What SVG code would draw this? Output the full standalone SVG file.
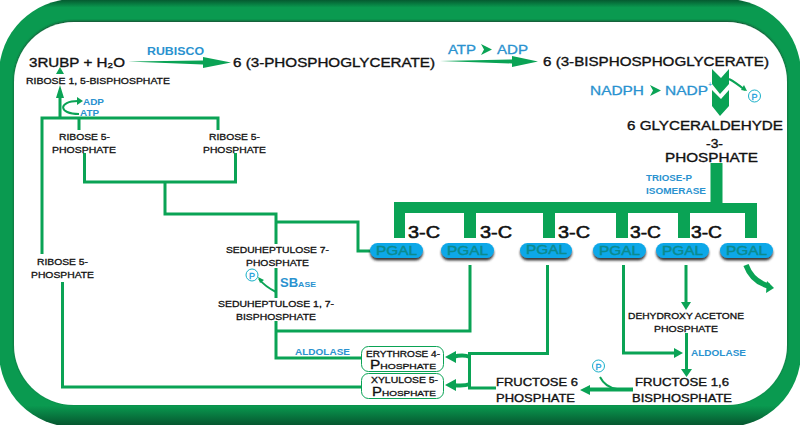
<svg xmlns="http://www.w3.org/2000/svg" width="800" height="425" viewBox="0 0 800 425">
<style>
text{font-family:"Liberation Sans",Arial,sans-serif;fill:#111;stroke:#111;stroke-width:.3;}
.a{font-size:9px}
.b{font-size:12.500px;stroke-width:.35}
.s{font-size:9px;font-weight:700;fill:#2a92cf;stroke:none}
.m{font-size:12px;fill:#2a92cf;stroke:#2a92cf}
.c{font-size:17px;stroke-width:.6}
.sc{font-variant:small-caps}
.pg{font-size:12px;fill:#0b8a8e;stroke:#0b8a8e;stroke-width:.4}
.l{fill:none;stroke:#0aa355;stroke-width:3}
.t{fill:none;stroke:#0aa355;stroke-width:2}
.f{fill:#0aa355}
.pill{fill:#0fa8e8;filter:url(#sh)}
.box{fill:#fff;stroke:#0aa355;stroke-width:1}
.pc{fill:#fff;stroke:#19b0c8;stroke-width:1}
.pt{font-size:9px;fill:#19a0dc;stroke:#19a0dc;text-anchor:middle}
</style>
<defs>
<linearGradient id="fr" x1="0" y1="0" x2="0" y2="1">
<stop offset="0" stop-color="#04522c"/><stop offset=".02" stop-color="#0a9a50"/><stop offset=".95" stop-color="#0a9a50"/><stop offset="1" stop-color="#05502c"/>
</linearGradient>
<filter id="sh" x="-20%" y="-30%" width="140%" height="190%"><feDropShadow dx="0" dy="2.500" stdDeviation="1.300" flood-color="#222" flood-opacity=".9"/></filter>
<filter id="sh2" x="-5%" y="-5%" width="110%" height="110%"><feDropShadow dx="0" dy="-1" stdDeviation="1" flood-color="#222" flood-opacity=".7"/></filter>
</defs>
<rect id="frame-outer" width="800" height="425" fill="#fff"/>
<rect x="-1" y="-1" width="802" height="428" rx="75" fill="url(#fr)"/>
<rect id="frame-inner" x="14" y="22" width="773" height="383" rx="60" fill="#fff" filter="url(#sh2)"/>

<g id="connectors">
<path class="f" d="M128 61.500L203 60.500V57L231 62.500L203 68V64.500Z"/>
<path class="f" d="M440 61L512 59.500V56L538 61.500L512 67V63.500Z"/>
<path class="l" d="M60 118V95M42 254V118H218V130M79 118V130M84.500 153V182H235.500V153M165 182V214H276V244M276 222H358V251H372"/>
<path class="f" d="M60 85L64 98H56ZM60 67L64 74H56Z"/>
<path class="t" d="M79 114C58 114 58 101 78 101"/>
<path class="f" d="M83 101L77 97V105Z"/>
<path class="l" d="M276 268V298M276 321V358H362M276 331H470V265M62.500 282V387H362"/>
<path class="t" d="M276 292C268 288 263 284 259 279"/>
<path class="f" d="M258 277L264 280L260 283Z"/>
<path class="l" d="M547.500 265V353.500H469.500V388H496M623.500 265V353H676"/>
<path class="f" d="M683 353L674 348V358Z"/>
<path class="l" d="M686 265V304"/>
<path class="f" d="M686 310L681 302H691Z"/>
<path class="l" d="M686.500 333V371"/>
<path class="f" d="M686.500 377L681 369H692Z"/>
<path class="l" style="stroke-width:4" d="M470 357C465 355 460 355 453 357M470 384C465 386 460 386 453 385M633 389.500H588"/>
<path class="f" d="M445 357L456 351V363ZM445 385L456 379V391ZM580 390L590 385V395Z"/>
<path class="t" d="M600 377C604 385 610 388 617 389"/>
<path class="l" style="stroke-width:5.500" d="M746 265C750 276 757 283 769 286"/>
<path class="f" d="M774 288L767 281L766 293Z"/>
<path class="f" d="M710.500 163H722.500V203H757V238H745V213H690V238H678V213H628V238H616V213H555V238H543V213H476V238H464V213H405V238H394V202H710.500Z"/>
<path class="f" d="M712 69L721 78L729 69V84L720 94L712 84ZM712 90L721 99L729 90V106L720 116L712 106Z"/>
<path class="t" d="M729 79C735 82 740 86 745 90"/>
<path class="f" d="M481 44L492 49.500L481 55L484 49.500ZM650 85L661 90.500L650 96L653 90.500Z"/>
<path class="f" d="M747 91L741 90L744 85Z"/>
</g>

<g id="rubp"><text class="b" x="29" y="67" textLength="96" lengthAdjust="spacingAndGlyphs">3RUBP + H₂O</text></g>
<g id="rubisco"><text class="s" style="font-size:11px" x="147" y="55" textLength="57" lengthAdjust="spacingAndGlyphs">RUBISCO</text></g>
<g id="pga"><text class="b" x="233" y="67" textLength="202" lengthAdjust="spacingAndGlyphs">6 (3-PHOSPHOGLYCERATE)</text></g>
<g id="atp-adp"><text class="m" x="448" y="54" textLength="28" lengthAdjust="spacingAndGlyphs">ATP</text><text class="m" x="497" y="54" textLength="31" lengthAdjust="spacingAndGlyphs">ADP</text></g>
<g id="bpga"><text class="b" x="543" y="66" textLength="226" lengthAdjust="spacingAndGlyphs">6 (3-BISPHOSPHOGLYCERATE)</text></g>
<g id="nadph"><text class="m" style="font-size:13px" x="590" y="95" textLength="54" lengthAdjust="spacingAndGlyphs">NADPH</text><text class="m" style="font-size:13px" x="665" y="95" textLength="43" lengthAdjust="spacingAndGlyphs">NADP</text><text class="s" x="708" y="87" style="font-weight:400;font-size:7px">+</text></g>
<g id="p1"><circle class="pc" cx="754.500" cy="96" r="6"/><text class="pt" x="754.500" y="99.500">P</text></g>
<g id="g3p"><text class="b" x="627" y="130" textLength="156" lengthAdjust="spacingAndGlyphs">6 GLYCERALDEHYDE</text><text class="b" x="706" y="148" textLength="17" lengthAdjust="spacingAndGlyphs">-3-</text><text class="b" x="665" y="162" textLength="93" lengthAdjust="spacingAndGlyphs">PHOSPHATE</text></g>
<g id="triose"><text class="s" x="646" y="181" textLength="46" lengthAdjust="spacingAndGlyphs">TRIOSE-P</text><text class="s" x="646" y="194" textLength="60" lengthAdjust="spacingAndGlyphs">ISOMERASE</text></g>
<g id="r15bp"><text class="a" x="26" y="84" textLength="144" lengthAdjust="spacingAndGlyphs">RIBOSE 1, 5-BISPHOSPHATE</text></g>
<g id="adp-atp"><text class="s" x="83" y="105" textLength="21" lengthAdjust="spacingAndGlyphs">ADP</text><text class="s" x="80" y="116" textLength="19" lengthAdjust="spacingAndGlyphs">ATP</text></g>
<g id="r5p-a"><text class="a" x="59" y="140" textLength="51" lengthAdjust="spacingAndGlyphs">RIBOSE 5-</text><text class="a" x="52" y="153" textLength="64" lengthAdjust="spacingAndGlyphs">PHOSPHATE</text></g>
<g id="r5p-b"><text class="a" x="209" y="140" textLength="51" lengthAdjust="spacingAndGlyphs">RIBOSE 5-</text><text class="a" x="203" y="153" textLength="63" lengthAdjust="spacingAndGlyphs">PHOSPHATE</text></g>
<g id="r5p-c"><text class="a" x="37" y="265" textLength="51" lengthAdjust="spacingAndGlyphs">RIBOSE 5-</text><text class="a" x="31" y="278" textLength="63" lengthAdjust="spacingAndGlyphs">PHOSPHATE</text></g>
<g id="s7p"><text class="a" x="226" y="253" textLength="103" lengthAdjust="spacingAndGlyphs">SEDUHEPTULOSE 7-</text><text class="a" x="246" y="266" textLength="63" lengthAdjust="spacingAndGlyphs">PHOSPHATE</text></g>
<g id="p2"><circle class="pc" cx="252" cy="275" r="6"/><text class="pt" x="252" y="278.500">P</text></g>
<g id="sbase"><text class="s sc" style="font-size:12px" x="280" y="287" textLength="36" lengthAdjust="spacingAndGlyphs">SBase</text></g>
<g id="s17bp"><text class="a" x="218" y="307" textLength="116" lengthAdjust="spacingAndGlyphs">SEDUHEPTULOSE 1, 7-</text><text class="a" x="236" y="320" textLength="80" lengthAdjust="spacingAndGlyphs">BISPHOSPHATE</text></g>
<g id="aldolase-a"><text class="s" x="295" y="355" textLength="55" lengthAdjust="spacingAndGlyphs">ALDOLASE</text></g>
<g id="e4p"><rect class="box" x="361.500" y="346.500" width="82" height="25" rx="7"/><text class="a" x="366" y="357" textLength="74" lengthAdjust="spacingAndGlyphs">ERYTHROSE 4-</text><text class="a sc" style="font-size:12px" x="370" y="369" textLength="66" lengthAdjust="spacingAndGlyphs">Phosphate</text></g>
<g id="x5p"><rect class="box" x="361.500" y="373.500" width="82" height="25" rx="7"/><text class="a" x="371" y="383" textLength="67" lengthAdjust="spacingAndGlyphs">XYLULOSE 5-</text><text class="a sc" style="font-size:12px" x="372" y="396" textLength="64" lengthAdjust="spacingAndGlyphs">Phosphate</text></g>
<g id="c3"><text class="c" x="408" y="238" textLength="32" lengthAdjust="spacingAndGlyphs">3-C</text><text class="c" x="480" y="238" textLength="32" lengthAdjust="spacingAndGlyphs">3-C</text><text class="c" x="558" y="238" textLength="32" lengthAdjust="spacingAndGlyphs">3-C</text><text class="c" x="630" y="238" textLength="31" lengthAdjust="spacingAndGlyphs">3-C</text><text class="c" x="691" y="238" textLength="31" lengthAdjust="spacingAndGlyphs">3-C</text></g>
<g id="pgal1"><rect class="pill" x="370" y="243" width="53" height="15" rx="7.500"/><text class="pg" x="376" y="255" textLength="41" lengthAdjust="spacingAndGlyphs">PGAL</text></g>
<g id="pgal2"><rect class="pill" x="441" y="243" width="53" height="15" rx="7.500"/><text class="pg" x="447" y="255" textLength="41" lengthAdjust="spacingAndGlyphs">PGAL</text></g>
<g id="pgal3"><rect class="pill" x="520" y="243" width="52" height="15" rx="7.500"/><text class="pg" x="526" y="254" textLength="41" lengthAdjust="spacingAndGlyphs">PGAL</text></g>
<g id="pgal4"><rect class="pill" x="593" y="243" width="53" height="15" rx="7.500"/><text class="pg" x="599" y="255" textLength="41" lengthAdjust="spacingAndGlyphs">PGAL</text></g>
<g id="pgal5"><rect class="pill" x="656" y="243" width="53" height="15" rx="7.500"/><text class="pg" x="662" y="255" textLength="41" lengthAdjust="spacingAndGlyphs">PGAL</text></g>
<g id="pgal6"><rect class="pill" x="720" y="243" width="53" height="15" rx="7.500"/><text class="pg" x="726" y="255" textLength="41" lengthAdjust="spacingAndGlyphs">PGAL</text></g>
<g id="dhap"><text class="a" x="628" y="319" textLength="116" lengthAdjust="spacingAndGlyphs">DEHYDROXY ACETONE</text><text class="a" x="654" y="332" textLength="64" lengthAdjust="spacingAndGlyphs">PHOSPHATE</text></g>
<g id="aldolase-b"><text class="s" x="691" y="356" textLength="55" lengthAdjust="spacingAndGlyphs">ALDOLASE</text></g>
<g id="p3"><circle class="pc" cx="598.500" cy="366" r="6"/><text class="pt" x="598.500" y="369.500">P</text></g>
<g id="f6p"><text class="b" style="font-size:11.500px" x="496" y="386" textLength="82" lengthAdjust="spacingAndGlyphs">FRUCTOSE 6</text><text class="b" style="font-size:11.500px" x="496" y="402" textLength="79" lengthAdjust="spacingAndGlyphs">PHOSPHATE</text></g>
<g id="f16bp"><text class="b" style="font-size:11.500px" x="635" y="386" textLength="94" lengthAdjust="spacingAndGlyphs">FRUCTOSE 1,6</text><text class="b" style="font-size:11.500px" x="632" y="402" textLength="100" lengthAdjust="spacingAndGlyphs">BISPHOSPHATE</text></g>
</svg>
